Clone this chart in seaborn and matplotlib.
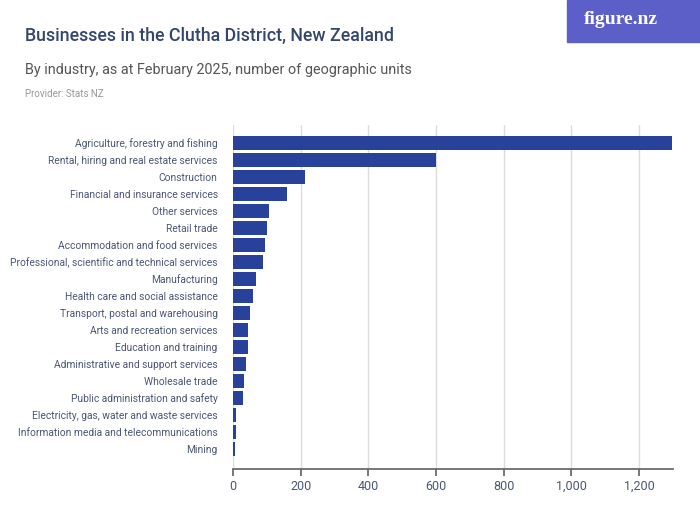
import seaborn as sns
import matplotlib.pyplot as plt
import matplotlib.patches as mpatches
import matplotlib.ticker as mticker
import pandas as pd

# Industry names and counts (geographic units)
industries = [
    'Agriculture, forestry and fishing', 'Rental, hiring and real estate services',
    'Construction', 'Financial and insurance services', 'Other services', 'Retail trade',
    'Accommodation and food services', 'Professional, scientific and technical services',
    'Manufacturing', 'Health care and social assistance', 'Transport, postal and warehousing',
    'Arts and recreation services', 'Education and training',
    'Administrative and support services', 'Wholesale trade',
    'Public administration and safety', 'Electricity, gas, water and waste services',
    'Information media and telecommunications', 'Mining'
]
counts = [1297, 600, 213, 159, 105, 101, 95, 89, 69, 60, 51, 45, 44, 38, 32, 30, 8, 8, 5]

df = pd.DataFrame({'industry': industries, 'count': counts})

sns.set_theme(style='white')
plt.rcParams['font.family'] = ['Roboto', 'DejaVu Sans']

fig = plt.figure(figsize=(7, 5.25), dpi=100)
ax = fig.add_axes([233 / 700, 1 - 469 / 525, 440 / 700, 344 / 525])

sns.barplot(data=df, x='count', y='industry', color='#28419a', width=0.82,
            saturation=1, linewidth=0, ax=ax)

ax.set_xlim(0, 1300)
ax.set_ylim(19.18, -1.06)
ax.set_xticks([0, 200, 400, 600, 800, 1000, 1200])
ax.xaxis.set_major_formatter(mticker.FuncFormatter(lambda v, p: f'{int(v):,}'))
ax.grid(axis='x', color='#dcdcdc', linewidth=1)
ax.set_axisbelow(True)
for s in ['top', 'right', 'left']:
    ax.spines[s].set_visible(False)
ax.spines['bottom'].set_color('#666666')
ax.tick_params(axis='x', bottom=True, length=5, color='#666666', labelsize=9,
               labelcolor='#4a5675', pad=3)
ax.tick_params(axis='y', left=False, labelsize=7.4, labelcolor='#4a5675', pad=5)
ax.set_xlabel('')
ax.set_ylabel('')

# Header texts
fig.text(25 / 700, 1 - 36 / 525, 'Businesses in the Clutha District, New Zealand',
         fontsize=12.8, color='#34466b', va='center', fontweight='medium')
fig.text(25 / 700, 1 - 70 / 525, 'By industry, as at February 2025, number of geographic units',
         fontsize=10.4, color='#555555', va='center')
fig.text(25 / 700, 1 - 94 / 525, 'Provider: Stats NZ', fontsize=7, color='#999999',
         va='center')

# Logo
fig.patches.append(mpatches.Rectangle((567 / 700, 1 - 42 / 525), 133 / 700, 42 / 525,
                                      transform=fig.transFigure, color='#5b5fc7'))
fig.text(621 / 700, 1 - 20 / 525, 'figure.nz', fontsize=14, color='white',
         ha='center', va='center', family='Liberation Serif', fontweight='bold')

plt.savefig('out.png', dpi=100)
